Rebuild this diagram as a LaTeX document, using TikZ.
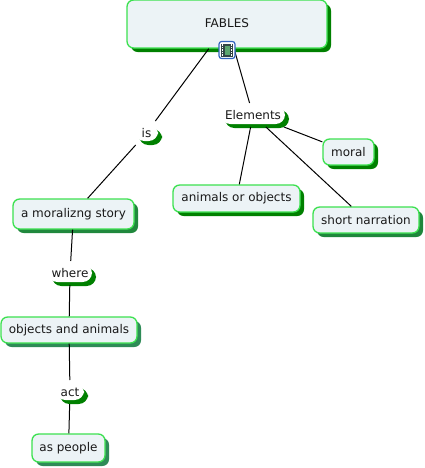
\documentclass[tikz,border=0pt]{standalone}
\usepackage{fontspec}
\setmainfont{DejaVu Sans}
\definecolor{dkgreen}{RGB}{0,128,0}
\definecolor{sgreen}{RGB}{46,139,87}
\definecolor{mgreen}{RGB}{30,135,60}
\definecolor{brd}{RGB}{60,225,80}
\definecolor{fillc}{RGB}{236,243,246}
\definecolor{iconblue}{RGB}{50,100,190}
\definecolor{filmg}{RGB}{90,165,110}
\definecolor{filmd}{RGB}{50,70,70}
\tikzset{x=0.75pt,y=-0.75pt,
  concept/.style={draw=brd,line width=1pt,fill=fillc,rounded corners=5pt,inner sep=0pt,text=black!90,font=\fontsize{9pt}{11pt}\selectfont},
  conn/.style={draw=black,line width=0.75pt},
  linkp/.style={inner sep=0pt,text=black!90,font=\fontsize{9pt}{11pt}\selectfont}
}
\newcommand{\cbox}[7]{% name x1 y1 x2 y2 shadow text
  \fill[#6,rounded corners=5pt] (#2+4,#3+4) rectangle (#4+4,#5+4);
  \node[concept,minimum width=#4*0.75pt-#2*0.75pt,minimum height=#5*0.75pt-#3*0.75pt] (#1) at ({(#2+#4)/2},{(#3+#5)/2}) {#7};
}
\newcommand{\lbox}[6]{% name x1 y1 x2 y2 text; white cap over a green crescent
  \fill[dkgreen,rounded corners=7pt] (#2+4,#3+4) rectangle (#4+4,#5+4);
  \fill[white,rounded corners=7pt] (#2,#3) rectangle (#4,#5);
  \node[linkp,outer sep=0pt,minimum width=#4*0.75pt-#2*0.75pt,minimum height=24*0.75pt] (#1) at ({(#2+#4)/2},{(#3+#5)/2}) {#6};
}
\begin{document}
\begin{tikzpicture}
\useasboundingbox (0,0) rectangle (425,468);
\fill[white] (0,0) rectangle (425,468);
\cbox{fables}{127}{0}{327}{48}{dkgreen}{\raisebox{1.5pt}{FABLES}}
\cbox{story}{13}{199}{134}{229}{sgreen!70!dkgreen}{a moralizng story}
\cbox{moral}{323}{139}{374}{165}{dkgreen}{moral}
\cbox{anim}{173}{185}{300}{212}{dkgreen}{animals or objects}
\cbox{short}{313}{207}{419}{233}{mgreen}{short narration}
\cbox{objs}{1}{317}{137}{343}{sgreen}{objects and animals}
\cbox{people}{32}{434}{105}{462}{sgreen}{as people}
\lbox{is}{135}{125}{158}{141}{is}
\lbox{elem}{221}{106}{285}{124}{Elements}
\lbox{where}{48}{264}{92}{282}{where}
\lbox{act}{56}{384}{84}{400}{act}
\draw[conn] (fables) -- (is);
\draw[conn] (is) -- (story);
\draw[conn] (fables) -- (elem);
\draw[conn] (elem) -- (anim);
\draw[conn] (elem) -- (short);
\draw[conn] (elem) -- (moral);
\draw[conn] (story) -- (where);
\draw[conn] (where) -- (objs);
\draw[conn] (objs) -- (act);
\draw[conn] (act) -- (people);
% film icon
\draw[iconblue,line width=0.9pt,fill=white,rounded corners=2pt] (219,41.5) rectangle (235,58.5);
\fill[filmd] (221,43.5) rectangle (233,56.5);
\fill[filmg] (224.5,45.5) rectangle (229.5,54.5);
\foreach \yy in {45,47.5,50,52.5,55}{
  \fill[white] (221.8,\yy-0.6) rectangle (223.4,\yy+0.6);
  \fill[white] (230.6,\yy-0.6) rectangle (232.2,\yy+0.6);
}
\end{tikzpicture}
\end{document}
